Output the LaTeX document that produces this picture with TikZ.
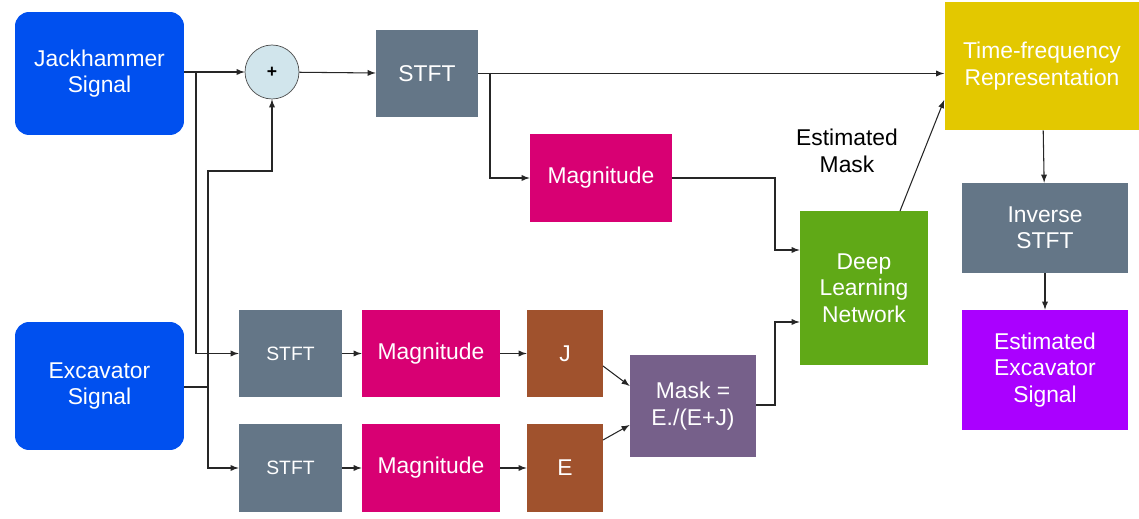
\documentclass[tikz,border=0pt]{standalone}
\usepackage{fontspec}
\setmainfont{Liberation Sans}
\begin{document}
\begin{tikzpicture}[x=0.02cm,y=-0.02cm,
 box/.style={draw=none,text=white,font=\fontsize{13}{15}\selectfont,align=center,inner sep=0pt},
 arr/.style={-latex,draw=black!85,line width=0.6pt},
 ln/.style={draw=black!85,line width=0.6pt}]
\useasboundingbox (0,0) rectangle (1139,519);
\definecolor{cblue}{HTML}{0050EF}\definecolor{cgray}{HTML}{647687}
\definecolor{cpink}{HTML}{D80073}\definecolor{cgreen}{HTML}{60A917}
\definecolor{cyel}{HTML}{E3C800}\definecolor{cpur}{HTML}{AA00FF}
\definecolor{cbrown}{HTML}{A0522D}\definecolor{cmask}{HTML}{76608A}
\newcommand{\bx}[6]{\node[box,fill=#6,minimum width=#4*0.02cm,minimum height=#5*0.02cm,#3] (#1) at (#2) {};}
\node[box,fill=cblue,rounded corners=8pt,minimum width=3.38cm,minimum height=2.46cm] (jack) at (99.5,73.5) {Jackhammer\\Signal};
\node[box,fill=cblue,rounded corners=8pt,minimum width=3.38cm,minimum height=2.56cm] (exc) at (99.5,386) {Excavator\\Signal};
\node[circle,draw=black!70,fill=cyan!25!teal!20,minimum size=1.08cm,inner sep=0pt,font=\bfseries] (plus) at (272,72) {+};
\node[box,fill=cgray,minimum width=2.04cm,minimum height=1.74cm] (stft) at (427,73.5) {STFT};
\node[box,fill=cpink,minimum width=2.84cm,minimum height=1.76cm] (mag) at (601,178) {Magnitude};
\node[box,fill=cgreen,minimum width=2.56cm,minimum height=3.08cm] (dln) at (864,288) {Deep\\Learning\\Network};
\node[box,fill=cyel,minimum width=3.9cm,minimum height=2.56cm] (tf) at (1042,66) {Time-frequency\\Representation};
\node[box,fill=cgray,minimum width=3.32cm,minimum height=1.8cm] (inv) at (1045,228) {Inverse\\STFT};
\node[box,fill=cpur,minimum width=3.32cm,minimum height=2.4cm] (est) at (1045,370) {Estimated\\Excavator\\Signal};
\node[box,fill=cgray,minimum width=2.06cm,minimum height=1.74cm,font=\fontsize{11}{13}\selectfont] (s1) at (290.5,353.5) {STFT};
\node[box,fill=cpink,minimum width=2.76cm,minimum height=1.74cm] (m1) at (431,353.5) {Magnitude};
\node[box,fill=cbrown,minimum width=1.52cm,minimum height=1.74cm] (j) at (565,353.5) {J};
\node[box,fill=cgray,minimum width=2.06cm,minimum height=1.76cm,font=\fontsize{11}{13}\selectfont] (s2) at (290.5,468) {STFT};
\node[box,fill=cpink,minimum width=2.76cm,minimum height=1.76cm] (m2) at (431,468) {Magnitude};
\node[box,fill=cbrown,minimum width=1.52cm,minimum height=1.76cm] (e) at (565,468) {E};
\node[box,fill=cmask,minimum width=2.52cm,minimum height=2.04cm] (mask) at (693,406) {Mask =\\E./(E+J)};
\node[font=\fontsize{13}{15}\selectfont,align=center] (lbl) at (847,151) {Estimated\\Mask};
% connectors
\coordinate (ja) at (196,72);
\draw[arr] (jack.east |- plus) -- (plus.west);
\draw[arr] (ja) |- (s1.west);
\coordinate (ea) at (208,387);
\draw[ln] (exc.east |- ea) -- (ea);
\draw[arr] (ea) |- (s2.west);
\draw[arr] (ea) -- (208,171) -| (plus.south);
\draw[arr] (plus) -- (stft);
\draw[arr] (stft.east) -- (stft.east -| tf.west);
\draw[arr] (490,73) |- (mag.west);
\draw[arr] (mag.east) -| (775,250) -- (dln.west |- 0,250);
\draw[arr] (s1) -- (m1); \draw[arr] (m1) -- (j);
\draw[arr] (s2) -- (m2); \draw[arr] (m2) -- (e);
\draw[arr] (603,366) -- (mask.west |- 0,386);
\draw[arr] (603,440) -- (mask.west |- 0,425);
\draw[arr] (mask.east |- 0,405) -| (775,322) -- (dln.west |- 0,322);
\draw[arr] (900,211) -- (tf.west |- 0,100);
\draw[arr] (tf) -- (inv); \draw[arr] (inv) -- (est);
\end{tikzpicture}
\end{document}
